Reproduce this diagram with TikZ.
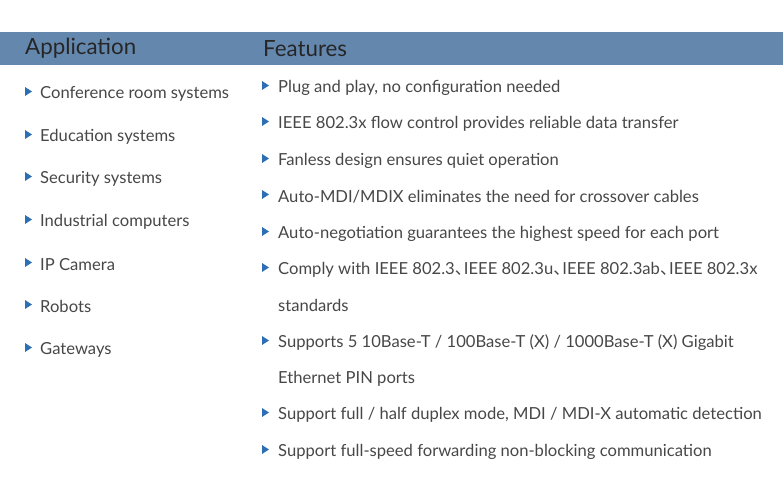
\documentclass[tikz,border=0pt]{standalone}
\usepackage{fontspec}
\setmainfont{Lato}
\newfontfamily\cjk{Noto Sans CJK SC}
\begin{document}
\begin{tikzpicture}[x=1pt,y=-1pt,
  itm/.style={anchor=west,inner sep=0pt,font=\fontsize{16.6}{18}\selectfont,text=black!72},
  hdr/.style={anchor=west,inner sep=0pt,font=\fontsize{22.3}{24}\selectfont,text=black!85}]
\definecolor{bar}{HTML}{6487AE}
\definecolor{tri}{HTML}{2C6FB5}
\useasboundingbox (0,0) rectangle (783,502);
\fill[bar] (0,32) rectangle (783,65);
\node[hdr] (ha) at (25,48.5) {Application};
\node[hdr] (hf) at (263,48.5) {Features};
\newcommand{\mytri}[2]{\fill[tri] (#1,#2-4.5) -- (#1+7,#2) -- (#1,#2+4.5) -- cycle;}
\newcommand{\dn}{{\cjk 、}\kern-0.45em}
\foreach \t/\y [count=\i] in {Conference room systems/93.5,Education systems/136.5,Security systems/178.5,Industrial computers/221.5,IP Camera/264.5,Robots/306.5,Gateways/349.5}{
  \mytri{25}{\y-2}
  \node[itm] (a\i) at (40,\y) {\t};
}
\foreach \t/\y [count=\i] in {{Plug and play, no configuration needed}/87.5,
 {IEEE 802.3x flow control provides reliable data transfer}/123.5,
 {Fanless design ensures quiet operation}/160.5,
 {Auto-MDI/MDIX eliminates the need for crossover cables}/196.5,
 {Auto-negotiation guarantees the highest speed for each port}/233.5,
 {Comply with IEEE 802.3\dn{}IEEE 802.3u\dn{}IEEE 802.3ab\dn{}IEEE 802.3x}/269.5,
 {Supports 5 10Base-T / 100Base-T (X) / 1000Base-T (X) Gigabit}/342.5,
 {Support full / half duplex mode, MDI / MDI-X automatic detection}/414.5,
 {Support full-speed forwarding non-blocking communication}/451.5}{
  \mytri{262}{\y-2}
  \node[itm] (f\i) at (278,\y) {\t};
}
\node[itm] (f6b) at (278,305.5) {standards};
\node[itm] (f7b) at (278,378.5) {Ethernet PIN ports};
\end{tikzpicture}
\end{document}
